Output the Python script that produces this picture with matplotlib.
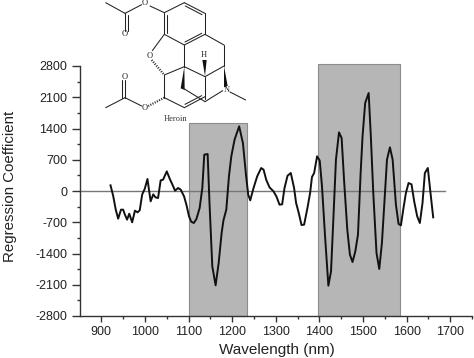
import matplotlib
matplotlib.use("Agg")
import matplotlib.pyplot as plt
from matplotlib.patches import Polygon

W, H = 474, 358
wavelength = [921,927,933,938.5,945,950,954,959,964,970.6,977,983,988,993.5,999.6,1005.7,1013,1019,1024,1030,1036,1041.5,1050,1057,1063,1069,1076,1082,1089.6,1095,1101,1106,1112,1118,1125.4,1131.5,1136,1143.7,1148,1154.4,1162,1169,1175.8,1180,1186.5,1192.6,1198,1205.5,1216,1224.6,1232,1236.8,1241.4,1249,1257.4,1266.5,1272,1278,1285.6,1294.8,1302,1308.5,1314.6,1320,1327,1334.4,1342,1346.6,1352.7,1359,1365,1372.6,1378.7,1383,1388,1394.7,1400.8,1406,1413,1420.6,1426.7,1433,1438,1445,1451,1457,1464,1470,1476,1482.4,1488.5,1494.6,1499,1505,1513,1518,1523.6,1531,1537.3,1543.4,1549.5,1555,1561.8,1568,1575.5,1581.6,1587,1592.3,1598.4,1604.5,1611.3,1617.4,1624.3,1630.4,1636.5,1641.9,1648.7,1654,1661]
coefficient = [127,-105,-418,-620,-418,-418,-530,-642,-508,-702,-440,-478,-433,-82,52,269,-231,-75,-142,-157,239,254,440,269,142,7,67,30,-119,-306,-567,-687,-717,-627,-381,67,814,829,-269,-1688,-2113,-1613,-941,-657,-418,329,777,1150,1449,1075,329,-82,-209,67,329,515,478,254,82,-7,-134,-306,-299,67,343,403,67,-269,-493,-762,-754,-381,-45,314,403,777,680,105,-1015,-2121,-1800,-418,702,1314,1187,179,-866,-1426,-1590,-1352,-978,403,1225,1971,2195,1225,-45,-1389,-1747,-1165,-194,702,978,702,-306,-739,-769,-418,-45,179,149,-231,-567,-717,-269,403,515,30,-590]
band_starts = [1101, 1397]
band_ends = [1235, 1584]
band_tops = [1523, 2850]
y_ticks = [2800, 2100, 1400, 700, 0, -700, -1400, -2100, -2800]
x_ticks = [900, 1000, 1100, 1200, 1300, 1400, 1500, 1600, 1700]

plt.rcParams["axes.unicode_minus"] = False
L, R, T, B = 80, 472, 66, 316
fig = plt.figure(figsize=(W/100, H/100), dpi=100)
ax = fig.add_axes([L/W, 1-B/H, (R-L)/W, (B-T)/H])
ax.set_xlim(851, 1748)
ax.set_ylim(-2800, 2800)
for s, e, t in zip(band_starts, band_ends, band_tops):
    ax.fill_between([s, e], -2800, t, facecolor="#b6b6b6", edgecolor="#8c8c8c", lw=0.8, clip_on=False, zorder=1)
ax.plot([851, 1689], [0, 0], color="#777777", lw=1.0, zorder=2)
ax.plot(wavelength, coefficient, color="#111111", lw=1.4, zorder=3)
for s in ("top", "right"):
    ax.spines[s].set_visible(False)
for s in ("left", "bottom"):
    ax.spines[s].set_linewidth(1.0)
    ax.spines[s].set_color("#333333")
ax.set_xticks(x_ticks)
ax.set_xticks([850+100*i for i in range(1, 10)], minor=True)
ax.set_yticks(y_ticks)
ax.set_yticks([v+350 for v in y_ticks[1:]], minor=True)
ax.tick_params(axis="y", which="major", length=6, width=1, color="#333333", labelsize=9, labelcolor="#222222", pad=3)
ax.tick_params(axis="x", which="major", length=4, width=1, color="#333333", labelsize=9, labelcolor="#222222", pad=3)
ax.tick_params(axis="both", which="minor", length=2, width=1, color="#333333")
for lab in ax.get_xticklabels() + ax.get_yticklabels():
    lab.set_family("Liberation Sans")
fig.text(10/W, 1-186/H, "Regression Coefficient", rotation=90, ha="center", va="center", family="Liberation Sans", fontsize=10.8, color="#222222")
fig.text(277/W, 1-350/H, "Wavelength (nm)", ha="center", va="center", family="Liberation Sans", fontsize=11, color="#222222")

# Molecule sketch (positions in pixels of the picture)
ov = fig.add_axes([0, 0, 1, 1], facecolor="none")
ov.set_xlim(0, W); ov.set_ylim(H, 0); ov.axis("off")
def P(p): return (60+p[0]/3, p[1]/3)
bonds = [((137,8),(195,40)),((195,40),(245,14)),((270,18),(313,38)),((195,40),(195,92)),((203,44),(203,92)),
 ((313,38),(373,8)),((373,8),(435,40)),((435,40),(435,103)),((435,103),(373,135)),((373,135),(313,103)),((313,103),(313,38)),
 ((321,45),(321,98)),((376,18),(426,44)),((425,100),(375,126)),
 ((313,103),(277,152)),((313,225),(373,200)),((373,135),(373,200)),((435,103),(492,135)),((492,135),(492,198)),
 ((492,198),(435,230)),((373,200),(435,230)),((435,230),(435,298)),((510,276),(557,300)),((488,272),(435,305)),((435,305),(370,265)),
 ((313,225),(313,293)),((313,293),(373,323)),((373,323),(435,290)),((375,313),(425,287)),
 ((245,318),(195,293)),((195,293),(137,323)),((195,293),(195,240)),((187,293),(187,240))]
for a, b in bonds:
    pa, pb = P(a), P(b)
    ov.plot([pa[0], pb[0]], [pa[1], pb[1]], color="#222222", lw=0.75, solid_capstyle="round")
for a, b in [((275,180),(313,225)),((313,293),(265,318))]:
    pa, pb = P(a), P(b)
    ov.plot([pa[0], pb[0]], [pa[1], pb[1]], color="#333333", lw=1.6, ls=(0, (0.5, 0.6)))
for tip, b1, b2 in [((435,228),(427,180),(440,180)),((492,198),(492,262),(503,258)),((373,200),(362,265),(374,270))]:
    ov.add_patch(Polygon([P(tip), P(b1), P(b2)], closed=True, facecolor="#111111", edgecolor="none"))
for p, s in [((255,10),"O"),((195,103),"O"),((268,168),"O"),((195,230),"O"),((255,323),"O"),((500,270),"N"),((432,165),"H")]:
    x, y = P(p)
    ov.text(x, y, s, ha="center", va="center", family="Liberation Serif", fontsize=6, color="#222222")
x, y = P((347,357))
ov.text(x, y, "Heroin", ha="center", va="center", family="Liberation Serif", fontsize=6, color="#333333")
fig.savefig("out.png", dpi=100)
